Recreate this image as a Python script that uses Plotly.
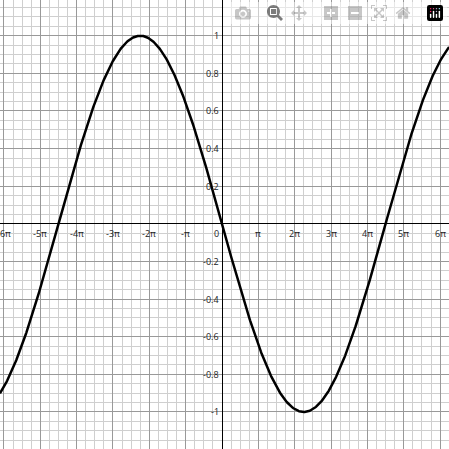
import numpy as np
import plotly.graph_objects as go

# curve: y = amplitude * sin(x / stretch)
amplitude = -1.0
stretch = 4.5
x_min, x_max = -6.11 * np.pi, 6.25 * np.pi

x_tick_mult = [-6, -5, -4, -3, -2, -1, 1, 2, 3, 4, 5, 6]
x_tick_text = ["-6π", "-5π", "-4π", "-3π", "-2π", "-π", "π", "2π", "3π", "4π", "5π", "6π"]
y_tick_vals = [-1, -0.8, -0.6, -0.4, -0.2, 0.2, 0.4, 0.6, 0.8, 1]
y_tick_text = ["-1", "-0.8", "-0.6", "-0.4", "-0.2", "0.2", "0.4", "0.6", "0.8", "1"]

xs = np.linspace(x_min, x_max, 800)
ys = amplitude * np.sin(xs / stretch)

fig = go.Figure()
fig.add_trace(go.Scatter(x=xs, y=ys, mode="lines", line=dict(color="black", width=2.5),
                         hoverinfo="skip"))

ann = []
for m, t in zip(x_tick_mult, x_tick_text):
    ann.append(dict(x=m * np.pi, y=0, text=t, showarrow=False, yshift=-10,
                    font=dict(size=9, color="#222")))
for v, t in zip(y_tick_vals, y_tick_text):
    ann.append(dict(x=0, y=v, text=t, showarrow=False, xanchor="right", xshift=-1,
                    font=dict(size=9, color="#222")))
ann.append(dict(x=0, y=0, text="0", showarrow=False, xanchor="right", yshift=-10,
                xshift=-1, font=dict(size=9, color="#222")))

fig.update_layout(
    width=449, height=449, margin=dict(l=0, r=0, t=0, b=0),
    plot_bgcolor="white", paper_bgcolor="white", showlegend=False,
    annotations=ann,
    xaxis=dict(range=[-19.19, 19.62], tickvals=[m * np.pi for m in range(-7, 8)],
               showticklabels=False, showgrid=True, gridcolor="#999", gridwidth=1,
               minor=dict(dtick=np.pi / 4, tick0=0, showgrid=True, gridcolor="#cfcfcf", gridwidth=1),
               zeroline=True, zerolinecolor="black", zerolinewidth=1.2),
    yaxis=dict(range=[-1.197, 1.19], dtick=0.2, tick0=0,
               showticklabels=False, showgrid=True, gridcolor="#999", gridwidth=1,
               minor=dict(dtick=0.05, tick0=0, showgrid=True, gridcolor="#cfcfcf", gridwidth=1),
               zeroline=True, zerolinecolor="black", zerolinewidth=1.2),
)

fig.write_html("out.html", post_script="document.body.style.margin='0';")
